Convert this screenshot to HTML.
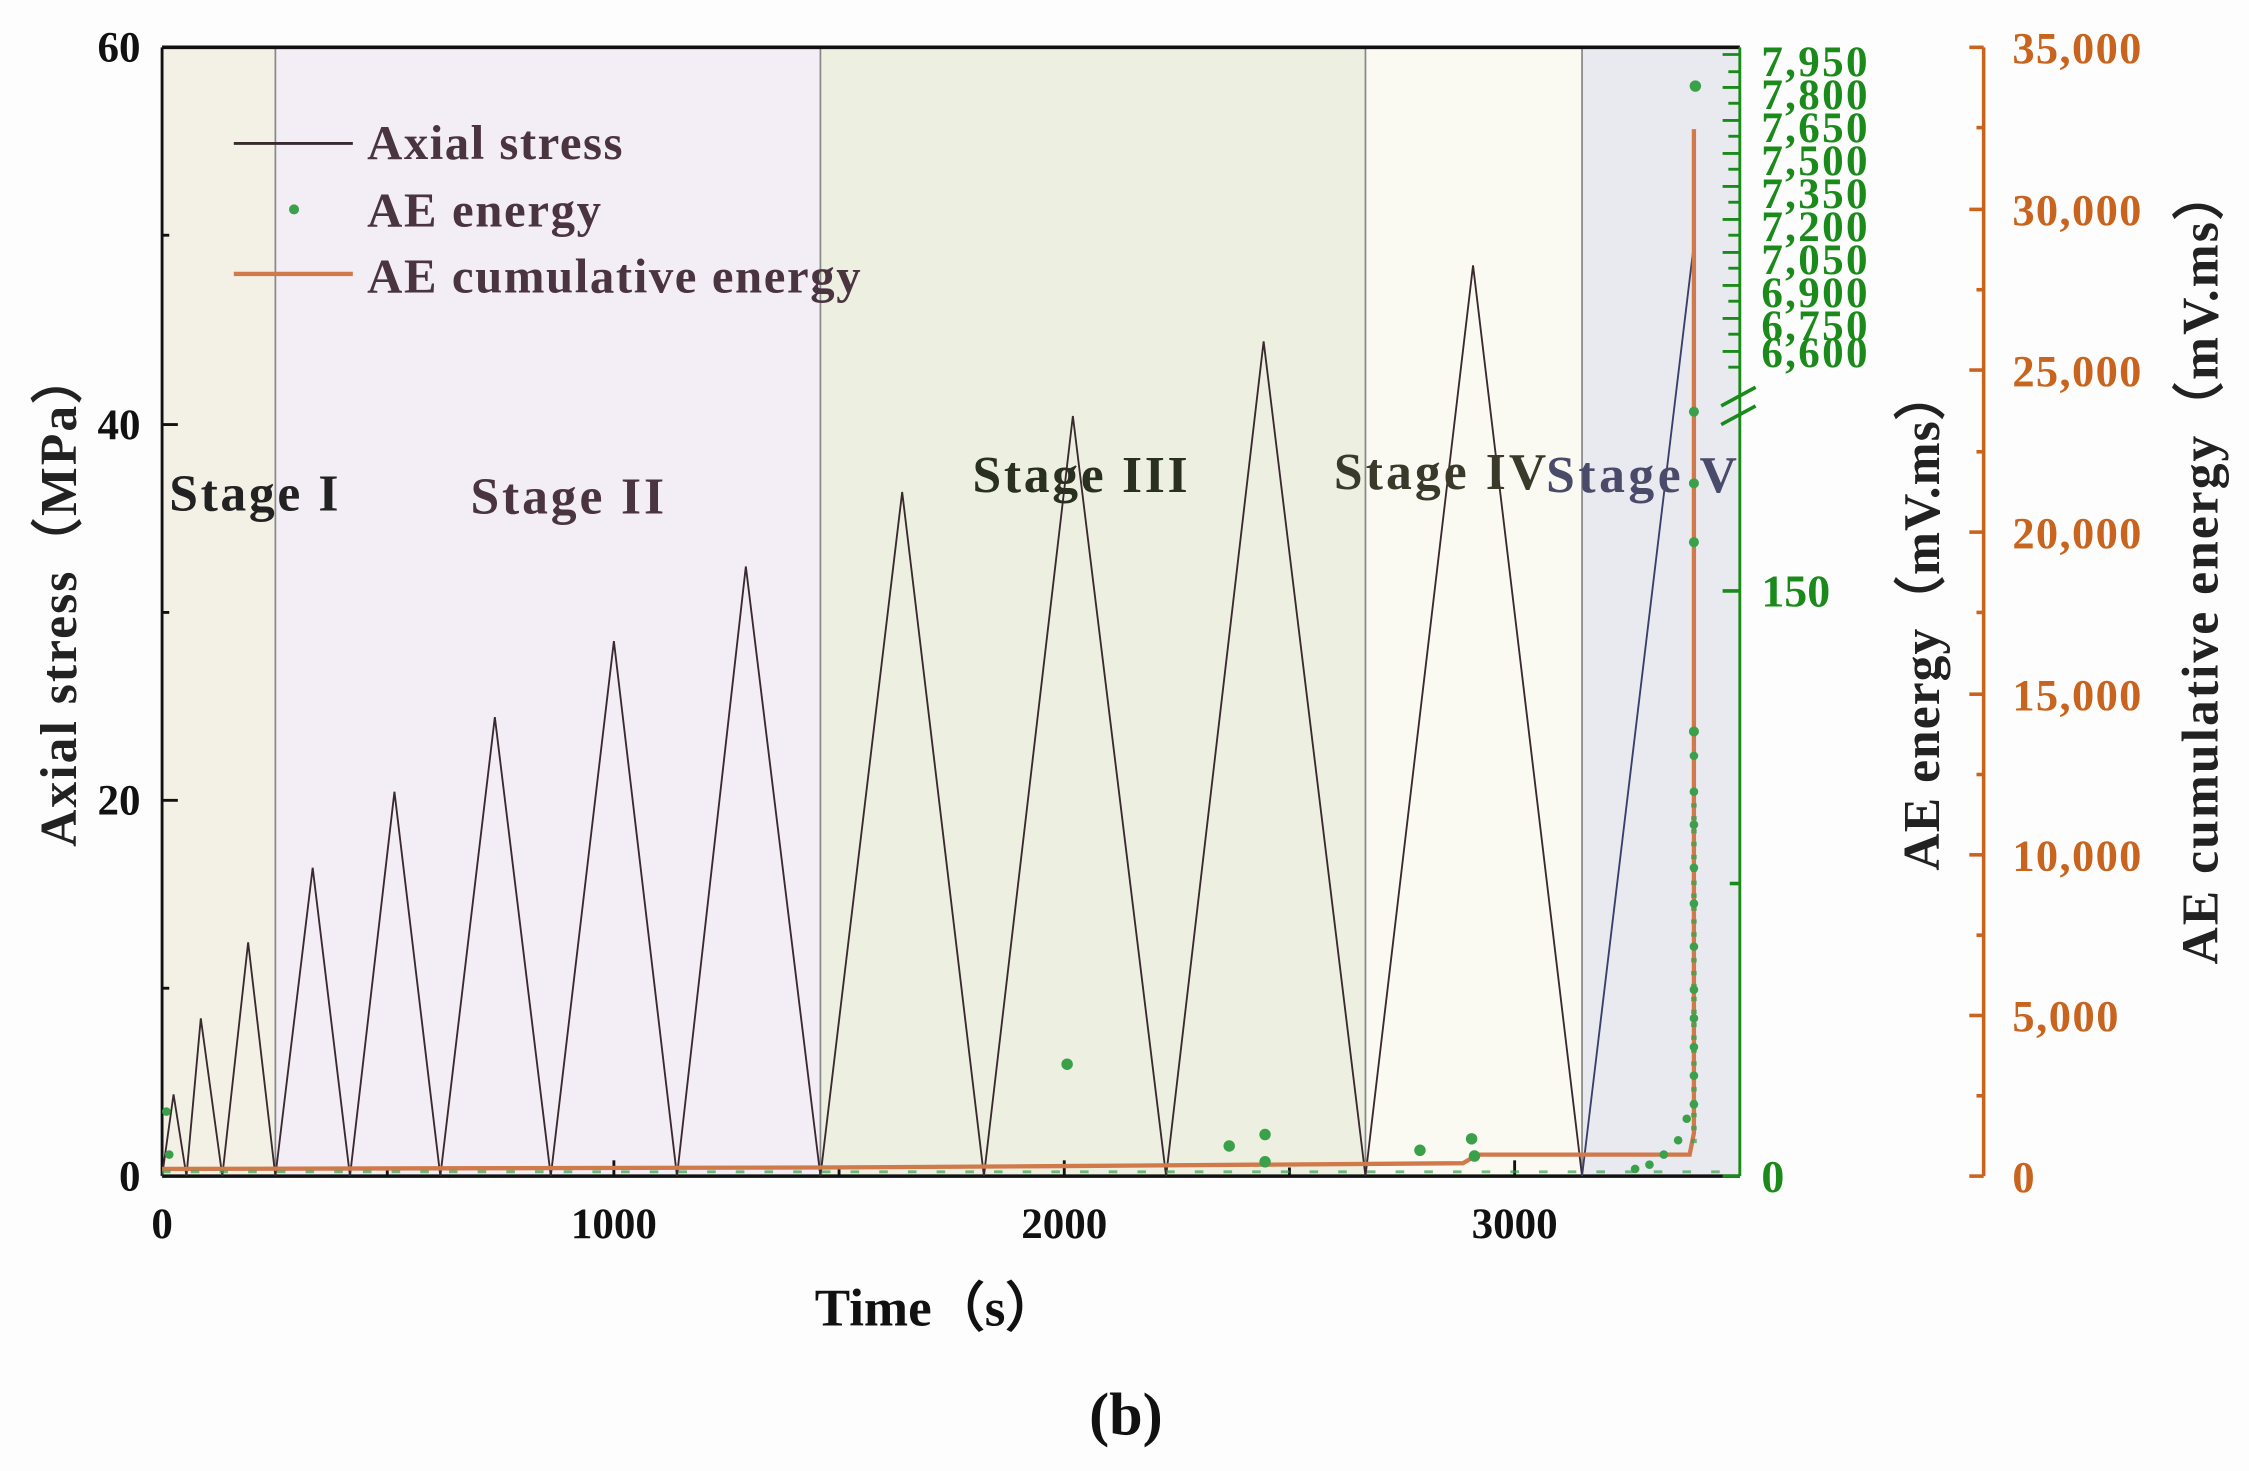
<!DOCTYPE html>
<html><head><meta charset="utf-8"><style>
html,body{margin:0;padding:0;background:#fdfdfd;}
svg{display:block;}
text{font-family:"Liberation Serif",serif;font-weight:bold;}
</style></head><body>
<svg width="2249" height="1471" viewBox="0 0 1568 1025.6" preserveAspectRatio="none" xmlns="http://www.w3.org/2000/svg">
<rect x="0" y="0" width="1568" height="1026" fill="#fdfdfd"/>
<rect x="113" y="33" width="79" height="787" fill="#f3f1e6"/>
<rect x="192" y="33" width="380" height="787" fill="#f3edf5"/>
<rect x="572" y="33" width="380" height="787" fill="#edf0e0"/>
<rect x="952" y="33" width="151" height="787" fill="#fafaf2"/>
<rect x="1103" y="33" width="110" height="787" fill="#e9e9f0"/>
<g stroke="#888" stroke-width="1.2">
<line x1="192" y1="33" x2="192" y2="820"/><line x1="572" y1="33" x2="572" y2="820"/>
<line x1="952" y1="33" x2="952" y2="820"/><line x1="1103" y1="33" x2="1103" y2="820"/>
</g>
<line x1="113" y1="33" x2="1213" y2="33" stroke="#111" stroke-width="2.5"/>
<line x1="113" y1="33" x2="113" y2="820" stroke="#111" stroke-width="2"/>
<line x1="113" y1="820" x2="1213" y2="820" stroke="#111" stroke-width="2.5"/>
<line x1="1213" y1="33" x2="1213" y2="820" stroke="#1a8a1a" stroke-width="2"/>
<g stroke="#111" stroke-width="2">
<line x1="113" y1="296" x2="124" y2="296"/><line x1="113" y1="558" x2="124" y2="558"/>
<line x1="113" y1="164" x2="118" y2="164"/><line x1="113" y1="427" x2="118" y2="427"/><line x1="113" y1="689" x2="118" y2="689"/>
<line x1="428" y1="820" x2="428" y2="809"/><line x1="742" y1="820" x2="742" y2="809"/><line x1="1056" y1="820" x2="1056" y2="809"/>
<line x1="270" y1="820" x2="270" y2="814"/><line x1="585" y1="820" x2="585" y2="814"/><line x1="899" y1="820" x2="899" y2="814"/>
</g>
<g font-size="30" fill="#111" text-anchor="end">
<text x="98" y="43">60</text><text x="98" y="306">40</text><text x="98" y="568">20</text><text x="98" y="830">0</text>
</g>
<g font-size="30" fill="#111" text-anchor="middle">
<text x="113" y="863">0</text><text x="428" y="863">1000</text><text x="742" y="863">2000</text><text x="1056" y="863">3000</text>
</g>
<polyline fill="none" stroke="#3a2a30" stroke-width="1.3" points="113,820 121,763 130,820 140,710 155,820 173,657 192,820 218,605 244,820 275,552 307,820 345,500 384,820 428,447 472,820 520,395 572,820 629,343 686,820 748,290 813,820 881,238 952,820 1027,185 1103,820"/>
<polyline fill="none" stroke="#3a3f6a" stroke-width="1.3" points="1103,820 1181,170"/>
<polyline fill="none" stroke="#d0794a" stroke-width="3" points="113,815 572,814 742,813 1020,811 1030,805 1178,805 1181,790 1181,90"/>
<g fill="#3aa04a">
<circle cx="1182" cy="60" r="4"/><circle cx="744" cy="742" r="4"/><circle cx="857" cy="799" r="4"/><circle cx="882" cy="791" r="4"/><circle cx="882" cy="810" r="4"/><circle cx="990" cy="802" r="4"/><circle cx="1026" cy="794" r="4"/><circle cx="1028" cy="806" r="4"/><circle cx="116" cy="775" r="3"/><circle cx="118" cy="805" r="3"/>
<circle cx="1181" cy="287" r="3.5"/><circle cx="1181" cy="337" r="3.5"/><circle cx="1181" cy="378" r="3.5"/><circle cx="1181" cy="510" r="3.5"/><circle cx="1181" cy="527" r="3"/><circle cx="1181" cy="552" r="3"/><circle cx="1181" cy="575" r="3"/><circle cx="1181" cy="605" r="3"/><circle cx="1181" cy="630" r="3"/><circle cx="1181" cy="660" r="3"/><circle cx="1181" cy="690" r="3"/><circle cx="1181" cy="710" r="3"/><circle cx="1181" cy="730" r="3"/><circle cx="1181" cy="750" r="3"/><circle cx="1181" cy="770" r="3"/><circle cx="1176" cy="780" r="3"/><circle cx="1170" cy="795" r="3"/><circle cx="1160" cy="805" r="3"/><circle cx="1150" cy="812" r="3"/><circle cx="1140" cy="815" r="3"/>
</g>
<g stroke="#3aa04a" stroke-width="2" opacity="0.7">
<line x1="113" y1="817" x2="1213" y2="817" stroke-dasharray="6,14"/>
<line x1="1181" y1="560" x2="1181" y2="800" stroke-width="4" stroke-dasharray="3,6"/>
</g>
<g stroke="#1a8a1a" stroke-width="2.5">
<line x1="1213" y1="820" x2="1201" y2="820"/><line x1="1213" y1="412" x2="1201" y2="412"/>
<line x1="1213" y1="616" x2="1206" y2="616"/>
<line x1="1200" y1="283" x2="1224" y2="270"/><line x1="1200" y1="296" x2="1224" y2="283"/>
</g>
<g stroke="#1a8a1a" stroke-width="2">
<line x1="1213" y1="38" x2="1201" y2="38"/><line x1="1213" y1="50" x2="1205" y2="50"/>
<line x1="1213" y1="61" x2="1201" y2="61"/><line x1="1213" y1="72" x2="1205" y2="72"/>
<line x1="1213" y1="84" x2="1201" y2="84"/><line x1="1213" y1="95" x2="1205" y2="95"/>
<line x1="1213" y1="107" x2="1201" y2="107"/><line x1="1213" y1="118" x2="1205" y2="118"/>
<line x1="1213" y1="130" x2="1201" y2="130"/><line x1="1213" y1="141" x2="1205" y2="141"/>
<line x1="1213" y1="153" x2="1201" y2="153"/><line x1="1213" y1="164" x2="1205" y2="164"/>
<line x1="1213" y1="176" x2="1201" y2="176"/><line x1="1213" y1="187" x2="1205" y2="187"/>
<line x1="1213" y1="199" x2="1201" y2="199"/><line x1="1213" y1="210" x2="1205" y2="210"/>
<line x1="1213" y1="222" x2="1201" y2="222"/><line x1="1213" y1="233" x2="1205" y2="233"/>
<line x1="1213" y1="245" x2="1201" y2="245"/><line x1="1213" y1="256" x2="1205" y2="256"/>
</g>
<g font-size="30" fill="#1a8a1a">
<text x="1228" y="53" textLength="74">7,950</text><text x="1228" y="76" textLength="74">7,800</text>
<text x="1228" y="99" textLength="74">7,650</text><text x="1228" y="122" textLength="74">7,500</text>
<text x="1228" y="145" textLength="74">7,350</text><text x="1228" y="168" textLength="74">7,200</text>
<text x="1228" y="191" textLength="74">7,050</text><text x="1228" y="214" textLength="74">6,900</text>
<text x="1228" y="237" textLength="74">6,750</text><text x="1228" y="256" textLength="74">6,600</text>
<text x="1228" y="423" font-size="32">150</text><text x="1228" y="831" font-size="32">0</text>
</g>
<line x1="1383" y1="33" x2="1383" y2="820" stroke="#c8641e" stroke-width="2.5"/>
<g stroke="#c8641e" stroke-width="2.5">
<line x1="1373" y1="33" x2="1383" y2="33"/><line x1="1373" y1="146" x2="1383" y2="146"/><line x1="1373" y1="258" x2="1383" y2="258"/><line x1="1373" y1="371" x2="1383" y2="371"/><line x1="1373" y1="484" x2="1383" y2="484"/><line x1="1373" y1="596" x2="1383" y2="596"/><line x1="1373" y1="708" x2="1383" y2="708"/><line x1="1373" y1="820" x2="1383" y2="820"/>
<line x1="1378" y1="89" x2="1383" y2="89"/><line x1="1378" y1="202" x2="1383" y2="202"/><line x1="1378" y1="315" x2="1383" y2="315"/><line x1="1378" y1="427" x2="1383" y2="427"/><line x1="1378" y1="540" x2="1383" y2="540"/><line x1="1378" y1="652" x2="1383" y2="652"/><line x1="1378" y1="764" x2="1383" y2="764"/>
</g>
<g font-size="31" fill="#c8641e">
<text x="1403" y="44" textLength="90">35,000</text><text x="1403" y="157" textLength="90">30,000</text><text x="1403" y="269" textLength="90">25,000</text><text x="1403" y="382" textLength="90">20,000</text><text x="1403" y="495" textLength="90">15,000</text><text x="1403" y="607" textLength="90">10,000</text><text x="1403" y="719" textLength="74">5,000</text><text x="1403" y="831">0</text>
</g>
<text transform="translate(53,418) rotate(-90)" font-size="36" fill="#222" text-anchor="middle" textLength="345">Axial stress（MPa）</text>
<text transform="translate(1352,432) rotate(-90)" font-size="36" fill="#222" text-anchor="middle" textLength="350">AE energy（mV.ms）</text>
<text transform="translate(1546,395) rotate(-90)" font-size="36" fill="#222" text-anchor="middle" textLength="555">AE cumulative energy（mV.ms）</text>
<text x="653" y="924" font-size="37" fill="#111" text-anchor="middle">Time（s）</text>
<text x="785" y="1000" font-size="42" fill="#111" text-anchor="middle">(b)</text>
<line x1="163" y1="100" x2="246" y2="100" stroke="#3a2a30" stroke-width="2"/>
<circle cx="205" cy="146" r="3.5" fill="#3aa04a"/>
<line x1="163" y1="191" x2="246" y2="191" stroke="#d0794a" stroke-width="3"/>
<g font-size="34" fill="#4a3440">
<text x="256" y="111" textLength="178">Axial stress</text><text x="256" y="158" textLength="163">AE energy</text><text x="256" y="204" textLength="344">AE cumulative energy</text>
</g>
<g font-size="36">
<text x="118" y="356" fill="#222" textLength="118">Stage I</text>
<text x="328" y="358" fill="#4a3440" textLength="135">Stage II</text>
<text x="678" y="343" fill="#2a3020" textLength="150">Stage III</text>
<text x="930" y="341" fill="#3a3a2a" textLength="148">Stage IV</text>
<text x="1078" y="343" fill="#4a4a6a" textLength="133">Stage V</text>
</g>
</svg>
</body></html>
